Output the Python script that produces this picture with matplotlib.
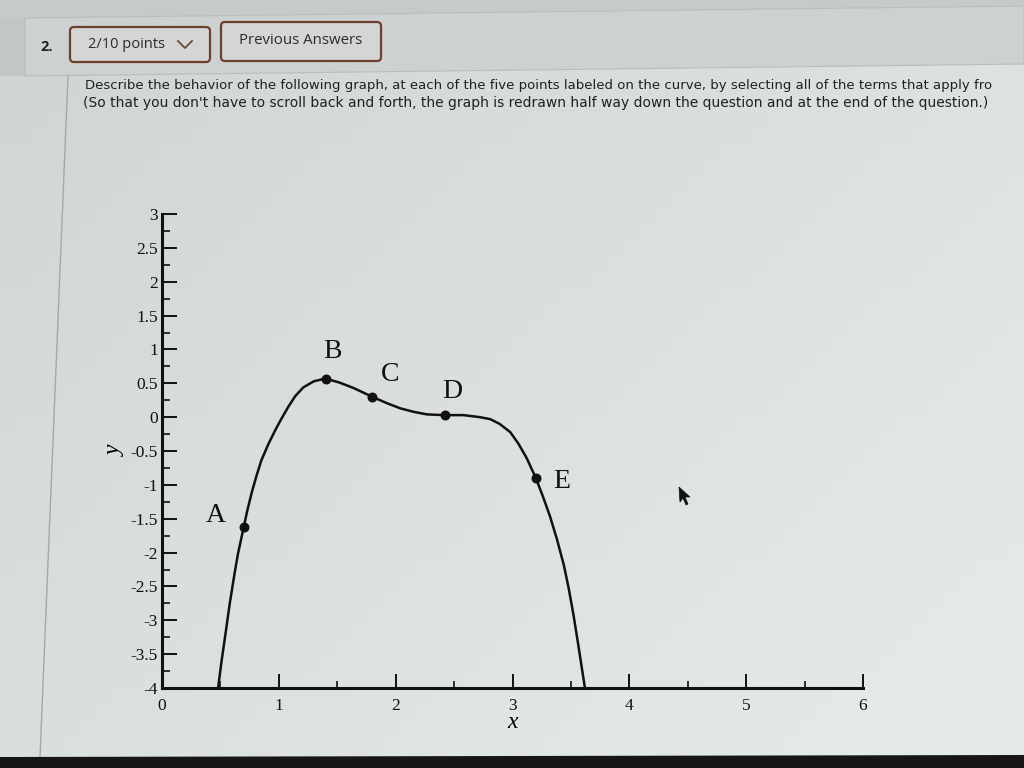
import matplotlib
matplotlib.use("Agg")
import matplotlib.pyplot as plt
import numpy as np
from matplotlib.patches import FancyBboxPatch, Polygon
from matplotlib.ticker import MultipleLocator

# ---------------- data ----------------
curve_x = [0.48, 0.51, 0.55, 0.58, 0.62, 0.65, 0.70, 0.73, 0.77, 0.81, 0.85, 0.91,
           0.97, 1.02, 1.08, 1.14, 1.21, 1.30, 1.40, 1.52, 1.64, 1.80, 1.92, 2.04,
           2.15, 2.27, 2.42, 2.58, 2.72, 2.81, 2.89, 2.98, 3.05, 3.12, 3.20, 3.26,
           3.32, 3.38, 3.44, 3.48, 3.52, 3.56, 3.62]
curve_y = [-4.00, -3.60, -3.12, -2.75, -2.32, -2.02, -1.62, -1.38, -1.10, -0.86, -0.64, -0.40,
           -0.19, -0.03, 0.15, 0.31, 0.44, 0.53, 0.57, 0.51, 0.43, 0.30, 0.21, 0.13,
           0.08, 0.04, 0.03, 0.03, 0.00, -0.03, -0.10, -0.22, -0.39, -0.60, -0.90, -1.17,
           -1.46, -1.80, -2.19, -2.52, -2.90, -3.33, -4.00]

point_names = ["A", "B", "C", "D", "E"]
point_x = [0.70, 1.40, 1.80, 2.42, 3.20]
point_y = [-1.62, 0.57, 0.30, 0.03, -0.90]

x_ticks = [0, 1, 2, 3, 4, 5, 6]
x_tick_labels = ["0", "1", "2", "3", "4", "5", "6"]
y_ticks = [3, 2.5, 2, 1.5, 1, 0.5, 0, -0.5, -1, -1.5, -2, -2.5, -3, -3.5, -4]
y_tick_labels = ["3", "2.5", "2", "1.5", "1", "0.5", "0", "-0.5", "-1", "-1.5",
                 "-2", "-2.5", "-3", "-3.5", "-4"]

question_number = "2."
points_button = "2/10 points"
answers_button = "Previous Answers"
line1 = ("Describe the behavior of the following graph, at each of the five points labeled "
         "on the curve, by selecting all of the terms that apply fro")
line2 = ("(So that you don't have to scroll back and forth, the graph is redrawn half way "
         "down the question and at the end of the question.)")

# ---------------- figure ----------------
W, H = 1024, 768
fig = plt.figure(figsize=(W / 100, H / 100), dpi=100)
fig.patch.set_facecolor("#dce0e0")

bg = fig.add_axes([0, 0, 1, 1])
bg.set_xlim(0, W)
bg.set_ylim(H, 0)
bg.axis("off")

# soft background gradient (photo of a screen)
gx = np.linspace(0, 1, 64)
gy = np.linspace(0, 1, 48)
GX, GY = np.meshgrid(gx, gy)
base = np.array([0xd0, 0xd4, 0xd4]) / 255
light = np.array([0xe4, 0xe9, 0xea]) / 255
t = np.clip(0.6 * GX + 0.5 * GY, 0, 1)[..., None]
img = base * (1 - t) + light * t
bg.imshow(img, extent=[0, W, H, 0], aspect="auto", zorder=0)

# top strip and header band
bg.add_patch(Polygon([(0, 0), (W, 0), (W, 6), (25, 18), (0, 18)], closed=True,
                     facecolor="#c6caca", edgecolor="none", zorder=1))
bg.add_patch(Polygon([(0, 18), (25, 18), (25, 76), (0, 76)], closed=True,
                     facecolor="#c2c6c6", edgecolor="none", zorder=1))
bg.add_patch(Polygon([(25, 18), (W, 6), (W, 64), (25, 76)], closed=True,
                     facecolor="#cdd1d1", edgecolor="#b9bdbd", lw=0.8, zorder=1))
# left page border
bg.plot([68, 40], [76, 757], color="#a4a8a8", lw=1.0, zorder=2)
# bottom black bezel
bg.add_patch(Polygon([(0, 757), (W, 755), (W, H), (0, H)], closed=True,
                     facecolor="#161616", edgecolor="none", zorder=3))

# buttons
brown = "#6e3f2c"
bg.add_patch(FancyBboxPatch((70, 27), 140, 35, boxstyle="round,pad=0,rounding_size=4",
                            facecolor="#d3d6d5", edgecolor=brown, lw=1.6, zorder=4))
bg.add_patch(FancyBboxPatch((221, 22), 160, 39, boxstyle="round,pad=0,rounding_size=4",
                            facecolor="#d3d6d5", edgecolor=brown, lw=1.6, zorder=4))
ui_font = ["Open Sans", "DejaVu Sans"]
bg.text(47, 47, question_number, fontsize=10.5, fontweight="bold", color="#222222",
        family=ui_font, ha="center", va="center", zorder=5)
bg.text(126, 45, points_button, fontsize=10.5, color="#2a2a2a", family=ui_font,
        ha="center", va="center", zorder=5)
bg.plot([178, 185, 192], [41, 48, 41], color="#6b4a3a", lw=1.3, zorder=5)
bg.text(301, 41, answers_button, fontsize=10.8, color="#2a2a2a", family=ui_font,
        ha="center", va="center", zorder=5)

body_font = ["DejaVu Sans"]
bg.text(85, 89, line1, fontsize=9.55, color="#202020", family=body_font, ha="left",
        va="baseline", zorder=5)
bg.text(83, 107, line2, fontsize=10, color="#202020", family=body_font, ha="left",
        va="baseline", zorder=5)

# mouse cursor
bg.add_patch(Polygon([(679, 487), (680, 502), (683, 498), (686, 505), (688, 504),
                      (685, 497), (690, 497)], closed=True, facecolor="#111111",
                     edgecolor="#111111", lw=0.5, zorder=5))

# ---------------- graph ----------------
left, right, top, bottom = 162, 863, 214, 688
ax = fig.add_axes([left / W, (H - bottom) / H, (right - left) / W, (bottom - top) / H])
ax.patch.set_alpha(0)
ax.set_xlim(0, 6)
ax.set_ylim(-4, 3)

serif = ["Liberation Serif", "DejaVu Serif"]
ax.plot(curve_x, curve_y, color="#111111", lw=1.8, solid_joinstyle="round",
        solid_capstyle="butt", clip_on=True, zorder=3)
ax.scatter(point_x, point_y, s=38, color="#111111", zorder=4)

label_offsets = [(-28, 11), (7, 27), (18, 22), (8, 24), (26, -3)]
for name, px, py, off in zip(point_names, point_x, point_y, label_offsets):
    ax.annotate(name, (px, py), xytext=off, textcoords="offset pixels",
                ha="center", va="center", fontsize=20, family=serif, color="#111111")

for s in ["top", "right"]:
    ax.spines[s].set_visible(False)
for s in ["left", "bottom"]:
    ax.spines[s].set_linewidth(2.2)
    ax.spines[s].set_color("#111111")

ax.set_xticks(x_ticks)
ax.set_xticklabels(x_tick_labels, family=serif, fontsize=12.5)
ax.set_yticks(y_ticks)
ax.set_yticklabels(y_tick_labels, family=serif, fontsize=12.5)
ax.xaxis.set_minor_locator(MultipleLocator(0.5))
ax.yaxis.set_minor_locator(MultipleLocator(0.25))
ax.tick_params(axis="x", which="major", direction="in", length=10, width=1.4,
               pad=7, colors="#111111")
ax.tick_params(axis="x", which="minor", direction="in", length=5, width=1.2,
               colors="#111111")
ax.tick_params(axis="y", which="major", direction="in", length=11, width=1.4,
               pad=3, colors="#111111")
ax.tick_params(axis="y", which="minor", direction="in", length=6, width=1.2,
               colors="#111111")

ax.set_xlabel("x", family=serif, style="italic", fontsize=17, labelpad=-1)
ax.set_ylabel("y", family=serif, style="italic", fontsize=17, labelpad=3)

fig.savefig("out.png", dpi=100, facecolor=fig.get_facecolor())
